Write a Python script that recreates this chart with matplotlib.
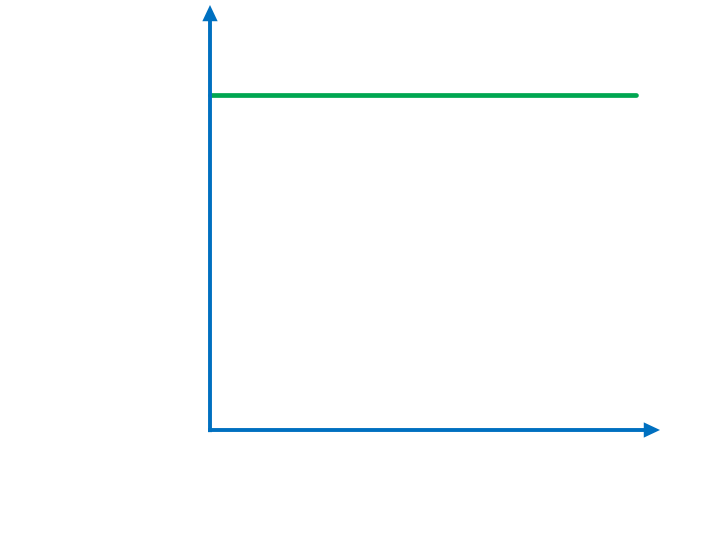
import matplotlib
matplotlib.use("Agg")
import matplotlib.pyplot as plt

# data: a flat line
time = [0, 10]
value = [8, 8]

BLUE = "#0070C0"
GREEN = "#00A651"

fig = plt.figure(figsize=(7.2, 5.4), dpi=100)
ax = fig.add_axes([210 / 720, 110 / 540, 450 / 720, 425 / 540])
ax.set_xlim(0, 10 / 0.9467)
ax.set_ylim(0, 8 / 0.788)
ax.axis("off")

ax.plot(time, value, color=GREEN, lw=3.4, solid_capstyle="round", clip_on=False)

# axes drawn as arrows
arrow = dict(arrowstyle="-|>,head_length=0.7,head_width=0.33", color=BLUE, lw=2.8,
             shrinkA=0, shrinkB=0, joinstyle="miter", capstyle="butt")
ax.annotate("", xy=(0, 1), xytext=(0, -0.005), xycoords="axes fraction",
            arrowprops=arrow)
ax.annotate("", xy=(1, 0), xytext=(-0.004, 0), xycoords="axes fraction",
            arrowprops=arrow)

fig.savefig("out.png", dpi=100)
